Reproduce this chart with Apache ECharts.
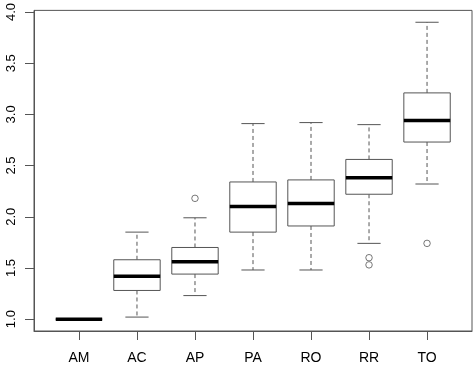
<!DOCTYPE html>
<html>
<head>
<meta charset="utf-8">
<script src="https://cdn.jsdelivr.net/npm/echarts@6/dist/echarts.min.js"></script>
<style>
html,body{margin:0;padding:0;background:#fff;}
#c{width:474px;height:365px;}
</style>
</head>
<body>
<div id="c"></div>
<script>
const categories = ['AM', 'AC', 'AP', 'PA', 'RO', 'RR', 'TO'];
const lowWhisker = [1.00, 1.02, 1.23, 1.48, 1.48, 1.74, 2.32];
const q1 = [1.00, 1.28, 1.44, 1.85, 1.91, 2.22, 2.73];
const median = [1.00, 1.42, 1.56, 2.10, 2.13, 2.38, 2.94];
const q3 = [1.00, 1.58, 1.70, 2.34, 2.36, 2.56, 3.21];
const highWhisker = [1.00, 1.85, 1.99, 2.91, 2.92, 2.90, 3.90];
const outlierGroup = ['AP', 'RR', 'RR', 'TO'];
const outlierValue = [2.18, 1.60, 1.53, 1.74];
const yTicks = [1.0, 1.5, 2.0, 2.5, 3.0, 3.5, 4.0];

const boxData = categories.map((c, i) => [i + 1, lowWhisker[i], q1[i], median[i], q3[i], highWhisker[i]]);
const outlierData = outlierGroup.map((g, i) => [categories.indexOf(g) + 1, outlierValue[i]]);
const xTicks = categories.map((c, i) => i + 1);

const chart = echarts.init(document.getElementById('c'), null, {renderer: 'canvas'});
const gray = '#555';

function renderBox(params, api) {
  const x = api.value(0);
  const pLow = api.coord([x, api.value(1)]);
  const pQ1 = api.coord([x, api.value(2)]);
  const pMed = api.coord([x, api.value(3)]);
  const pQ3 = api.coord([x, api.value(4)]);
  const pHigh = api.coord([x, api.value(5)]);
  const w = api.size([0.8, 0])[0];
  const hw = w / 2;
  const cw = w / 4;
  const cx = pMed[0];
  const dash = {stroke: gray, lineWidth: 1, lineDash: [4, 3]};
  const solid = {stroke: gray, lineWidth: 1};
  return {
    type: 'group',
    children: [
      {type: 'line', shape: {x1: cx, y1: pQ3[1], x2: cx, y2: pHigh[1]}, style: dash},
      {type: 'line', shape: {x1: cx, y1: pQ1[1], x2: cx, y2: pLow[1]}, style: dash},
      {type: 'line', shape: {x1: cx - cw, y1: pHigh[1], x2: cx + cw, y2: pHigh[1]}, style: solid},
      {type: 'line', shape: {x1: cx - cw, y1: pLow[1], x2: cx + cw, y2: pLow[1]}, style: solid},
      {type: 'rect', shape: {x: cx - hw, y: pQ3[1], width: w, height: pQ1[1] - pQ3[1]}, style: {fill: '#fff', stroke: gray, lineWidth: 1}},
      {type: 'line', shape: {x1: cx - hw, y1: pMed[1], x2: cx + hw, y2: pMed[1]}, style: {stroke: '#000', lineWidth: 3.5}}
    ]
  };
}

chart.setOption({
  animation: false,
  grid: {left: 34, right: 2, top: 10, bottom: 32, show: true, borderColor: gray, borderWidth: 1, backgroundColor: 'transparent'},
  xAxis: {
    type: 'value', min: 0.225, max: 7.775,
    splitLine: {show: false},
    axisLine: {show: true, lineStyle: {color: gray}},
    axisTick: {show: true, length: 9, lineStyle: {color: gray}, customValues: xTicks},
    axisLabel: {customValues: xTicks, margin: 20, color: '#000', fontFamily: 'Liberation Sans, Arial, sans-serif', fontSize: 14,
      formatter: v => categories[Math.round(v) - 1] || ''}
  },
  yAxis: {
    type: 'value', min: 0.884, max: 4.016,
    splitLine: {show: false},
    axisLine: {show: true, lineStyle: {color: gray}},
    axisTick: {show: true, length: 9, lineStyle: {color: gray}, customValues: yTicks},
    axisLabel: {customValues: yTicks, margin: 16, rotate: 90, color: '#000', fontFamily: 'Liberation Sans, Arial, sans-serif', fontSize: 13,
      formatter: v => Number(v).toFixed(1)}
  },
  series: [
    {type: 'custom', renderItem: renderBox, data: boxData, encode: {x: 0, y: [1, 2, 3, 4, 5]}, clip: false},
    {type: 'scatter', data: outlierData, symbol: 'circle', symbolSize: 6.5,
      itemStyle: {color: '#fff', borderColor: gray, borderWidth: 1}}
  ]
});
</script>
</body>
</html>
